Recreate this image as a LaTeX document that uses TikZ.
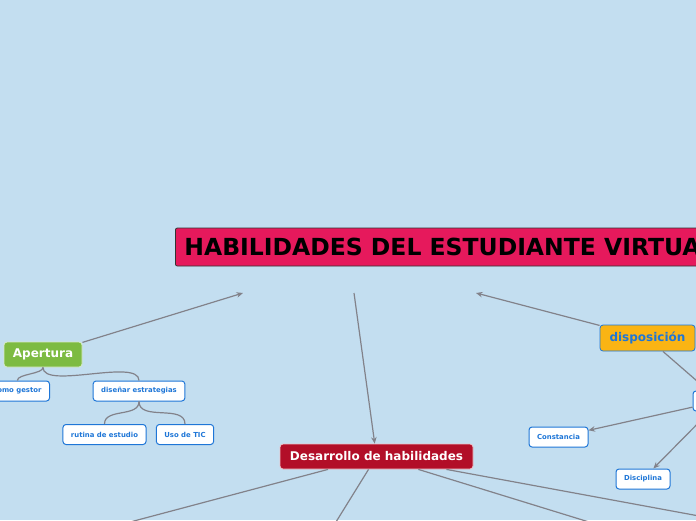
\documentclass[tikz,border=0pt]{standalone}
\usepackage{fontspec}
\setmainfont{DejaVu Sans}
\usetikzlibrary{arrows.meta, shapes, positioning}
\usepackage{xcolor}
\definecolor{fondo}{RGB}{195,222,240}
\definecolor{titulo}{RGB}{230,25,92}
\definecolor{rojo}{RGB}{178,14,40}
\definecolor{verde}{RGB}{125,187,66}
\definecolor{naranja}{RGB}{250,180,20}
\definecolor{azul}{RGB}{30,118,215}
\definecolor{gris}{RGB}{130,130,138}

\begin{document}
\begin{tikzpicture}[
        x=1pt, y=-1pt,
        line join=round,
        titlenode/.style={shape=rectangle, fill=titulo, draw=black!80, line width=0.8pt, rounded corners=2pt, text=black, font=\fontsize{23.5}{26}\selectfont\bfseries, inner xsep=9pt, minimum height=38pt, anchor=west},
        mainnode/.style={shape=rectangle, rounded corners=3pt, line width=0.8pt, font=\fontsize{12}{14}\selectfont\bfseries, minimum height=25pt, inner xsep=8pt},
        leafnode/.style={shape=rectangle, fill=white, draw=azul, line width=1pt, rounded corners=3pt, text=azul, font=\fontsize{6.9}{8}\selectfont\bfseries, minimum height=20pt, inner xsep=8pt},
        link/.style={draw=gris, line width=1.2pt},
        arrowlink/.style={link, -{Stealth[length=6.5pt, width=5.5pt]}}
        ]

        %% Background
        \useasboundingbox (0,0) rectangle (696,520);
        \clip (0,0) rectangle (696,520);
        \fill[fondo] (0,0) rectangle (696,520);

        %% Nodes
        \node[titlenode] (habilidades) at (175,247) {HABILIDADES DEL ESTUDIANTE VIRTUAL};
        \node[mainnode, fill=verde, draw=white!70!verde, text=white, minimum width=78pt] (apertura) at (43,354.5) {Apertura};
        \node[mainnode, fill=rojo, draw=white!75!rojo, text=white, minimum width=193pt] (desarrollo) at (376.5,456.5) {Desarrollo de habilidades};
        \node[mainnode, fill=naranja, draw=azul, text=azul, minimum width=95pt, minimum height=26pt] (disposicion) at (647.5,338) {disposición};

        \node[leafnode, anchor=east] (gestor) at (50,391) {como gestor};
        \node[leafnode] (estrategias) at (139,391) {diseñar estrategias};
        \node[leafnode] (rutina) at (104.5,434.5) {rutina de estudio};
        \node[leafnode] (tic) at (185,434.5) {Uso de TIC};
        \node[leafnode, minimum width=54pt] (actitud) at (720,401) {};
        \node[leafnode, minimum width=59pt] (constancia) at (558.5,437) {Constancia};
        \node[leafnode, minimum width=54pt] (disciplina) at (643,479) {Disciplina};

        %% Free ends
        \coordinate (tituloIzq) at (243,293);
        \coordinate (tituloCen) at (354,293);
        \coordinate (tituloDer) at (476,293);

        %% Connectors
        \draw[arrowlink] (apertura) -- (tituloIzq);
        \draw[arrowlink] (tituloCen) -- (desarrollo);
        \draw[arrowlink] (disposicion) -- (tituloDer);

        \draw[link] (apertura.south) to[out=-90, in=90, looseness=0.6] (gestor.north);
        \draw[link] (apertura.south) to[out=-90, in=90, looseness=0.6] (estrategias.north);
        \draw[link] (estrategias.south) to[out=-90, in=90] (rutina.north);
        \draw[link] (estrategias.south) to[out=-90, in=90] (tic.north);

        \draw[link] (disposicion) -- (actitud);
        \draw[arrowlink] (actitud) -- (constancia);
        \draw[arrowlink] (actitud) -- (disciplina);

        \foreach \x/\y in {100/530, 331/530, 615/530, 710/518} {
            \draw[link] (desarrollo) -- (\x,\y);
        }
\end{tikzpicture}
\end{document}
